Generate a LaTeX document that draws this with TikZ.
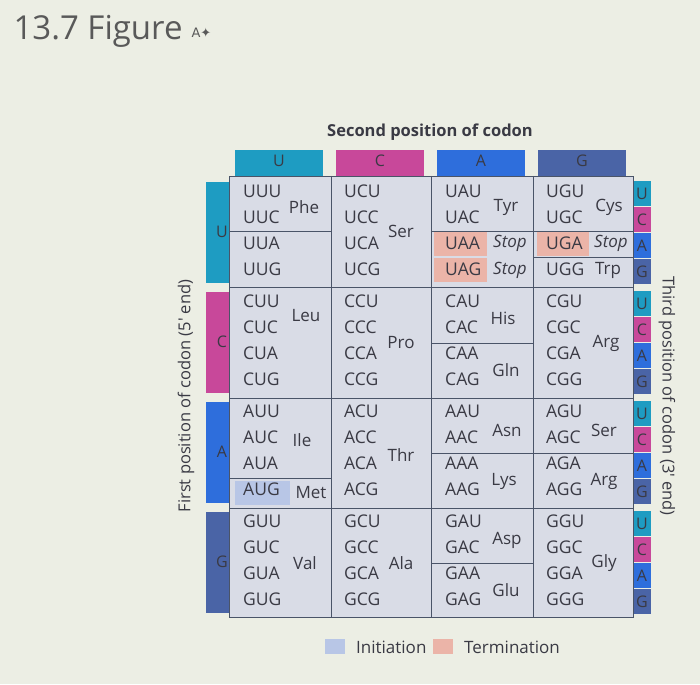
\documentclass[tikz,border=0pt]{standalone}
\usepackage{fontspec}
\setmainfont{Open Sans}
\newfontfamily\djv{DejaVu Sans}
\definecolor{bg}{HTML}{ECEEE4}
\definecolor{cU}{HTML}{1E9CC2}
\definecolor{cC}{HTML}{C8489A}
\definecolor{cA}{HTML}{2E6EDC}
\definecolor{cG}{HTML}{4A64A6}
\definecolor{cell}{HTML}{D9DCE6}
\definecolor{lin}{HTML}{4A5468}
\definecolor{txt}{HTML}{3A3A44}
\definecolor{pinkb}{HTML}{EBB4A8}
\definecolor{blueb}{HTML}{B8C6E6}
\begin{document}
\begin{tikzpicture}[x=1pt,y=-1pt,
  cod/.style={anchor=west,font=\fontsize{17.5}{17.5}\selectfont,text=txt,inner sep=0},
  aa/.style={font=\fontsize{17}{17}\selectfont,text=txt,inner sep=0},
  st/.style={font=\itshape\fontsize{17}{17}\selectfont,text=txt,inner sep=0},
  hdr/.style={font=\fontsize{16}{16}\selectfont,text=txt,inner sep=0},
  sep/.style={draw=lin,line width=0.9pt}]
\fill[bg] (0,0) rectangle (700,684);
\useasboundingbox (0,0) rectangle (700,684);
\node[anchor=west,text=black!65,font=\fontsize{33}{33}\selectfont] (title) at (10,31) {13.7 Figure};
\node[anchor=west,text=black!65,font=\djv\fontsize{13}{13}\selectfont] (icon) at (188,33) {A✦};
\node[font=\bfseries\fontsize{16.5}{16.5}\selectfont,text=txt] (sec) at (430,132) {Second position of codon};
\node[rotate=90,font=\fontsize{16.5}{16.5}\selectfont,text=txt] (first) at (186,396) {First position of codon (5′ end)};
\node[rotate=-90,font=\fontsize{16.5}{16.5}\selectfont,text=txt] (third) at (667,396) {Third position of codon (3′ end)};
% headers
\foreach \l/\c [count=\i from 0] in {U/cU,C/cC,A/cA,G/cG}{
  \fill[\c] (235+101*\i,150) rectangle (323+101*\i,176);
  \node[hdr] (ch\l) at (279+101*\i,161) {\l};
  \fill[\c] (206,182+110*\i) rectangle (229,283+110*\i);
  \node[hdr] (rh\l) at (222,232+110*\i) {\l};
  \foreach \m/\d [count=\j from 0] in {U/cU,C/cC,A/cA,G/cG}{
    \fill[\d] (633,181+110*\i+26*\j) rectangle (651,206+110*\i+26*\j);
    \node[hdr] (th\l\m) at (642,193.5+110*\i+26*\j) {\m};
  }
}
\fill[cell] (229,176) rectangle (633,617);
% highlight boxes
\fill[pinkb] (434,232) rectangle (487,256);
\fill[pinkb] (434,258) rectangle (487,282);
\fill[pinkb] (537,232) rectangle (589,256);
\fill[blueb] (235,481) rectangle (290,505);
% grid
\draw[sep] (229,176) rectangle (633,617);
\foreach \x in {331,431,533} \draw[sep] (\x,176) -- (\x,617);
\foreach \y in {287,398,508} \draw[sep] (229,\y) -- (633,\y);
\draw[sep] (229,231) -- (331,231);
\draw[sep] (431,231) -- (633,231);
\draw[sep] (533,257) -- (633,257);
\draw[sep] (431,343) -- (533,343);
\draw[sep] (229,478) -- (331,478);
\draw[sep] (431,453) -- (633,453);
\draw[sep] (431,563) -- (533,563);
% codons
\foreach \a [count=\i from 0] in {U,C,A,G}{
  \foreach \b [count=\j from 0] in {U,C,A,G}{
    \foreach \c [count=\k from 0] in {U,C,A,G}{
      \node[cod] (n\a\b\c) at (243+101*\j,191+110*\i+26*\k) {\a\b\c};
    }
  }
}
% amino acids
\node[aa] (phe) at (304,207) {Phe};
\node[aa] (leu) at (306,316) {Leu};
\node[aa] (ser1) at (401,231) {Ser};
\node[aa] (tyr) at (506,207) {Tyr};
\node[st] (st1) at (510,243) {Stop};
\node[st] (st2) at (510,270) {Stop};
\node[aa] (cys) at (609,207) {Cys};
\node[st] (st3) at (611,243) {Stop};
\node[aa] (trp) at (608,270) {Trp};
\node[aa] (pro) at (401,343) {Pro};
\node[aa] (his) at (503,318) {His};
\node[aa] (gln) at (506,370) {Gln};
\node[aa] (arg1) at (606,343) {Arg};
\node[aa] (ile) at (302,440) {Ile};
\node[aa] (met) at (311,493) {Met};
\node[aa] (thr) at (401,455) {Thr};
\node[aa] (asn) at (507,430) {Asn};
\node[aa] (lys) at (504,481) {Lys};
\node[aa] (ser2) at (604,430) {Ser};
\node[aa] (arg2) at (604,481) {Arg};
\node[aa] (val) at (305,563) {Val};
\node[aa] (ala) at (401,563) {Ala};
\node[aa] (asp) at (507,540) {Asp};
\node[aa] (glu) at (506,590) {Glu};
\node[aa] (gly) at (604,563) {Gly};
% legend
\fill[blueb] (325,639) rectangle (345,654);
\node[aa,anchor=west] (ini) at (356,647) {Initiation};
\fill[pinkb] (433,639) rectangle (453,654);
\node[aa,anchor=west] (ter) at (464,647) {Termination};
\end{tikzpicture}
\end{document}
